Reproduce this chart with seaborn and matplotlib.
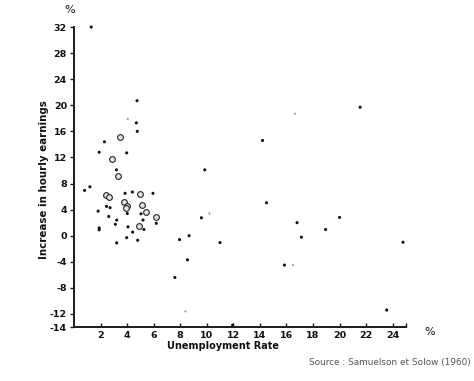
import matplotlib
matplotlib.use("Agg")
import matplotlib.pyplot as plt
import seaborn as sns
import pandas as pd

# --- data (unemployment rate %, increase in hourly earnings %) ---
dots_x = [1.3, 4.75, 4.7, 4.77, 2.3, 1.9, 3.97, 3.2, 9.85, 1.2, 0.8,
          3.85, 4.4, 5.95, 1.82, 2.45, 2.72, 2.62, 3.22, 3.12, 1.9, 1.9,
          4.02, 4.07, 5.05, 5.2, 5.27, 6.2, 4.42, 3.97, 4.8, 3.22,
          7.95, 8.67, 8.55, 7.6, 9.6, 11.0, 11.95,
          14.5, 16.8, 17.13, 18.95, 20.0, 24.78, 15.85, 23.55, 21.55, 14.2]
dots_y = [32.0, 20.7, 17.3, 16.0, 14.4, 12.8, 12.7, 10.1, 10.1, 7.5, 6.95,
          6.5, 6.7, 6.5, 3.77, 4.5, 4.3, 2.95, 2.4, 1.75, 1.2, 0.9,
          3.4, 1.36, 3.36, 2.4, 0.95, 1.9, 0.55, -0.3, -0.7, -1.1,
          -0.6, 0.0, -3.7, -6.4, 2.75, -1.05, -13.7,
          5.05, 2.0, -0.23, 0.95, 2.8, -1.0, -4.5, -11.4, 19.7, 14.6]
faint_x = [4.05, 10.2, 8.4, 16.65, 16.5]
faint_y = [17.9, 3.4, -11.6, 18.7, -4.5]
circ_x = [3.5, 2.9, 3.35, 2.4, 2.67, 4.95, 3.77, 3.97, 3.95, 5.12, 5.45, 6.17, 4.9]
circ_y = [15.2, 11.8, 9.15, 6.3, 6.0, 6.45, 5.15, 4.6, 4.3, 4.7, 3.6, 2.85, 1.5]

x_ticks = [2, 4, 6, 8, 10, 12, 14, 16, 18, 20, 22, 24]
y_ticks = [32, 28, 24, 20, 16, 12, 8, 4, 0, -4, -8, -12, -14]

sns.set_theme(style="white")
plt.rcParams['font.family'] = ['DejaVu Sans']

fig = plt.figure(figsize=(4.74, 3.81), dpi=100)
ax = fig.add_axes([0.156, 0.1417, 0.7004, 0.7874])

dots = pd.DataFrame({"u": dots_x, "w": dots_y})
faint = pd.DataFrame({"u": faint_x, "w": faint_y})
circ = pd.DataFrame({"u": circ_x, "w": circ_y})

sns.scatterplot(data=circ, x="u", y="w", ax=ax, s=17, marker="o",
                facecolor="#e4e4e4", edgecolor="#222222", linewidth=0.8,
                zorder=3, clip_on=False)
sns.scatterplot(data=dots, x="u", y="w", ax=ax, s=5, marker="o",
                color="#111111", edgecolor="none", zorder=4, clip_on=False)
sns.scatterplot(data=faint, x="u", y="w", ax=ax, s=3, marker="o",
                color="#aaaaaa", edgecolor="none", zorder=4, clip_on=False)

ax.set_xlim(0, 25)
ax.set_ylim(-14, 32)
ax.set_xticks(x_ticks + [25])
ax.set_xticklabels([str(t) for t in x_ticks] + [""])
ax.set_yticks(y_ticks)
ax.set_yticklabels([str(t) for t in y_ticks])

for s in ["top", "right"]:
    ax.spines[s].set_visible(False)
for s in ["left", "bottom"]:
    ax.spines[s].set_color("#1a1a1a")
    ax.spines[s].set_linewidth(1.4)

ax.tick_params(axis="x", direction="in", length=3, width=1.0, color="#1a1a1a",
               labelsize=6.8, pad=3, bottom=True)
ax.tick_params(axis="y", direction="out", length=3, width=1.0, color="#1a1a1a",
               labelsize=6.8, pad=2, left=True)
for lab in ax.get_xticklabels() + ax.get_yticklabels():
    lab.set_fontweight("bold")
    lab.set_color("#111111")

ax.set_xlabel("Unemployment Rate", fontsize=7, fontweight="bold", color="#111111")
ax.xaxis.set_label_coords(0.45, -0.045)
ax.set_ylabel("Increase in hourly earnings", fontsize=7.4, fontweight="bold",
              color="#111111")
ax.yaxis.set_label_coords(-0.075, 0.49)

fig.text(70 / 474, 1 - 10 / 381, "%", fontsize=8, ha="center", va="center",
         color="#111111")
fig.text(430 / 474, 1 - 332 / 381, "%", fontsize=8, ha="center", va="center",
         color="#111111")
fig.text(471 / 474, 1 - 363 / 381, "Source : Samuelson et Solow (1960)",
         fontsize=6.4, ha="right", va="center", color="#555555")

fig.savefig("out.png", dpi=100, facecolor="white")
